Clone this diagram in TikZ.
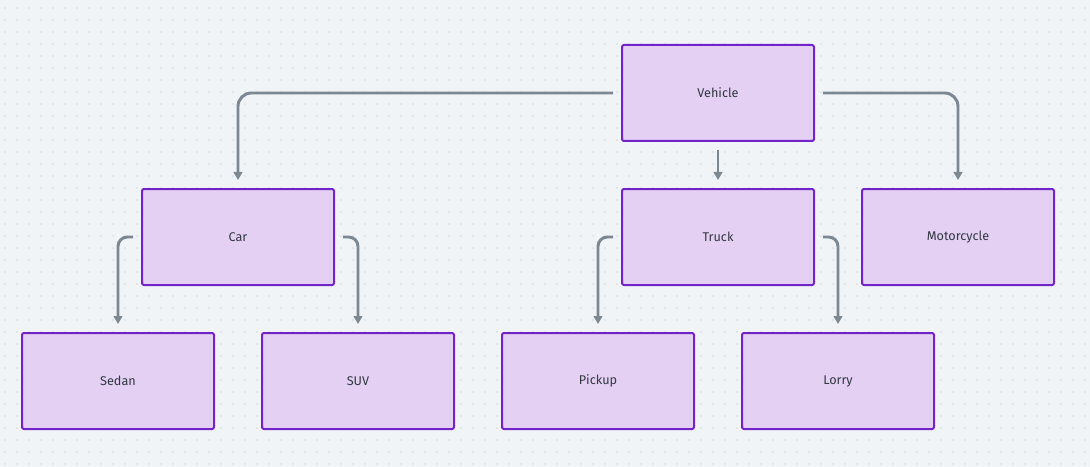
\documentclass[tikz,border=0pt]{standalone}
\usepackage{fontspec}
\setmainfont{Fira Sans}
\usetikzlibrary{arrows.meta}
\definecolor{bg}{HTML}{F1F4F7}
\definecolor{dotc}{HTML}{D3D8DE}
\definecolor{boxfill}{HTML}{E3D0F3}
\definecolor{boxline}{HTML}{7324C8}
\definecolor{edgec}{HTML}{7B8792}
\definecolor{txt}{HTML}{333842}
\begin{document}
\begin{tikzpicture}[x=0.75pt,y=-0.75pt,
  box/.style={draw=boxline,fill=boxfill,line width=1.5pt,rounded corners=1.5pt,
    minimum width=144pt,minimum height=72pt,inner sep=0pt,
    font=\fontsize{9.5}{11}\selectfont,text=txt},
  link/.style={draw=edgec,line width=2.2pt,rounded corners=10pt,
    -{Triangle[length=6pt,width=6.5pt]}}]
\fill[bg] (0,0) rectangle (1090,467);
\useasboundingbox (0,0) rectangle (1090,467);
\foreach \i in {0,...,90}{\foreach \j in {0,...,38}{
  \fill[dotc] (5+12*\i,8+12*\j) circle (0.6pt);}}
\node[box] (veh) at (718,93) {Vehicle};
\node[box] (car) at (238,237) {Car};
\node[box] (truck) at (718,237) {Truck};
\node[box] (moto) at (958,237) {Motorcycle};
\node[box] (sedan) at (118,381) {Sedan};
\node[box] (suv) at (358,381) {SUV};
\node[box] (pick) at (598,381) {Pickup};
\node[box] (lorry) at (838,381) {Lorry};
\path[link] ([xshift=-6pt]veh.west) -| ([yshift=6pt]car.north);
\path[link] ([xshift=6pt]veh.east) -| ([yshift=6pt]moto.north);
\path[link] ([yshift=-6pt]veh.south) -- ([yshift=6pt]truck.north);
\path[link,rounded corners=7pt] ([xshift=-6pt]car.west) -| ([yshift=6pt]sedan.north);
\path[link,rounded corners=7pt] ([xshift=6pt]car.east) -| ([yshift=6pt]suv.north);
\path[link,rounded corners=7pt] ([xshift=-6pt]truck.west) -| ([yshift=6pt]pick.north);
\path[link,rounded corners=7pt] ([xshift=6pt]truck.east) -| ([yshift=6pt]lorry.north);
\end{tikzpicture}
\end{document}
